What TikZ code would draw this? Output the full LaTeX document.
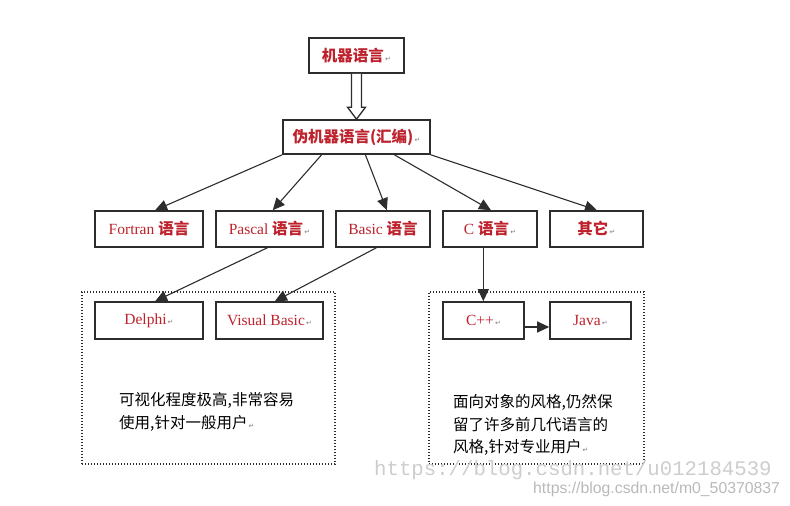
\documentclass[tikz,border=0pt]{standalone}
\usepackage{fontspec}
\setmainfont{Liberation Serif}
\newfontfamily\cjk{Noto Sans CJK SC}
\newfontfamily\dejavu{DejaVu Sans}
\newfontfamily\wmmono{Liberation Mono}
\newfontfamily\wmsans{Liberation Sans}
\usetikzlibrary{arrows.meta,calc}
\definecolor{boxred}{RGB}{190,35,45}
\definecolor{edgegray}{RGB}{45,45,45}
\definecolor{wmgray}{RGB}{205,205,205}
\newcommand\retmark{{\dejavu\fontsize{7}{7}\selectfont\color{gray}\,↵}}
\newcommand\zh[1]{{\cjk\bfseries #1}}
\begin{document}
\begin{tikzpicture}[x=1pt,y=-1pt,
  rbox/.style={draw=edgegray, line width=1.6pt, fill=white, text=boxred,
    minimum height=36pt, inner sep=0pt, font={\fontsize{15.5}{18}\selectfont}},
  group/.style={draw=edgegray, line width=1.1pt, dash pattern=on 1.1pt off 1.9pt},
  conn/.style={draw=edgegray, line width=1.1pt, -{Triangle[length=12pt,width=11pt]}},
  desc/.style={align=left, inner sep=0pt, anchor=west, text=black,
    font={\cjk\fontsize{15.5}{22.5}\selectfont}},
  dblarrow/.style={draw=edgegray, line width=1.3pt, fill=white, line join=miter},
  wmark/.style={inner sep=0pt, anchor=base west}
]
\useasboundingbox (0,0) rectangle (790,506);

% dotted groups
\node[group, minimum width=253pt, minimum height=172pt, inner sep=0pt] (leftgrp) at (208.5,378) {};
\node[group, minimum width=215pt, minimum height=172pt, inner sep=0pt] (rightgrp) at (536.5,378) {};

% boxes
\node[rbox, minimum width=95pt, minimum height=35pt] (machine) at (356.5,55.5) {\zh{机器语言}\retmark};
\node[rbox, minimum width=147pt, minimum height=34pt] (pseudo) at (356.5,137) {\zh{伪机器语言(汇编)}\retmark};

\node[rbox, minimum width=108pt] (fortran) at (149,229) {Fortran \zh{语言}};
\node[rbox, minimum width=107pt] (pascal) at (269.5,229) {Pascal \zh{语言}\retmark};
\node[rbox, minimum width=94pt] (basic) at (383,229) {Basic \zh{语言}};
\node[rbox, minimum width=94pt] (clang) at (490,229) {C \zh{语言}\retmark};
\node[rbox, minimum width=93pt] (other) at (596.5,229) {\zh{其它}\retmark};

\node[rbox, minimum width=108pt, minimum height=37pt] (delphi) at (149,320.5) {Delphi\retmark};
\node[rbox, minimum width=107pt, minimum height=37pt] (vb) at (269.5,320.5) {Visual Basic\retmark};
\node[rbox, minimum width=81pt, minimum height=37pt] (cpp) at (483.5,320.5) {C++\retmark};
\node[rbox, minimum width=81pt, minimum height=37pt] (java) at (590.5,320.5) {Java\retmark};

% descriptions
\node[desc] (ldesc) at (119,412) {可视化程度极高,非常容易\\使用,针对一般用户\retmark};
\node[desc] (rdesc) at (453,425) {面向对象的风格,仍然保\\留了许多前几代语言的\\风格,针对专业用户\retmark};

% hollow double arrow
\draw[dblarrow] ($(machine.south)+(-5,0)$) -- ($(pseudo.north)+(-5,-12)$) -- ++(-4,0)
  -- (pseudo.north) -- ($(pseudo.north)+(9,-12)$) -- ++(-4,0) -- ($(machine.south)+(5,0)$);

% connectors
\draw[conn] (pseudo.south west) -- ($(fortran.north west)!0.556!(fortran.north east)$);
\draw[conn] ($(pseudo.south west)!0.265!(pseudo.south east)$) -- ($(pascal.north west)!0.53!(pascal.north east)$);
\draw[conn] ($(pseudo.south west)!0.56!(pseudo.south east)$) -- ($(basic.north west)!0.54!(basic.north east)$);
\draw[conn] ($(pseudo.south west)!0.755!(pseudo.south east)$) -- ($(clang.north west)!0.51!(clang.north east)$);
\draw[conn] (pseudo.south east) -- ($(other.north west)!0.505!(other.north east)$);

\draw[conn] ($(pascal.south west)!0.48!(pascal.south east)$) -- ($(delphi.north west)!0.556!(delphi.north east)$);
\draw[conn] ($(basic.south west)!0.43!(basic.south east)$) -- ($(vb.north west)!0.55!(vb.north east)$);
\draw[conn] ($(clang.south west)!0.43!(clang.south east)$) coordinate (cdown) -- (cdown |- cpp.north);
\draw[conn] ($(cpp.east)+(0,6.5)$) coordinate (cpj) -- (cpj -| java.west);

% watermarks
\node[wmark, text=wmgray, font={\wmmono\fontsize{20.7}{22}\selectfont}] (wm1) at (374,475) {https://blog.csdn.net/u012184539};
\node[wmark, text=wmgray!90!black, font={\wmsans\fontsize{15.8}{18}\selectfont}] (wm2) at (533,493) {https://blog.csdn.net/m0\_50370837};
\end{tikzpicture}
\end{document}
